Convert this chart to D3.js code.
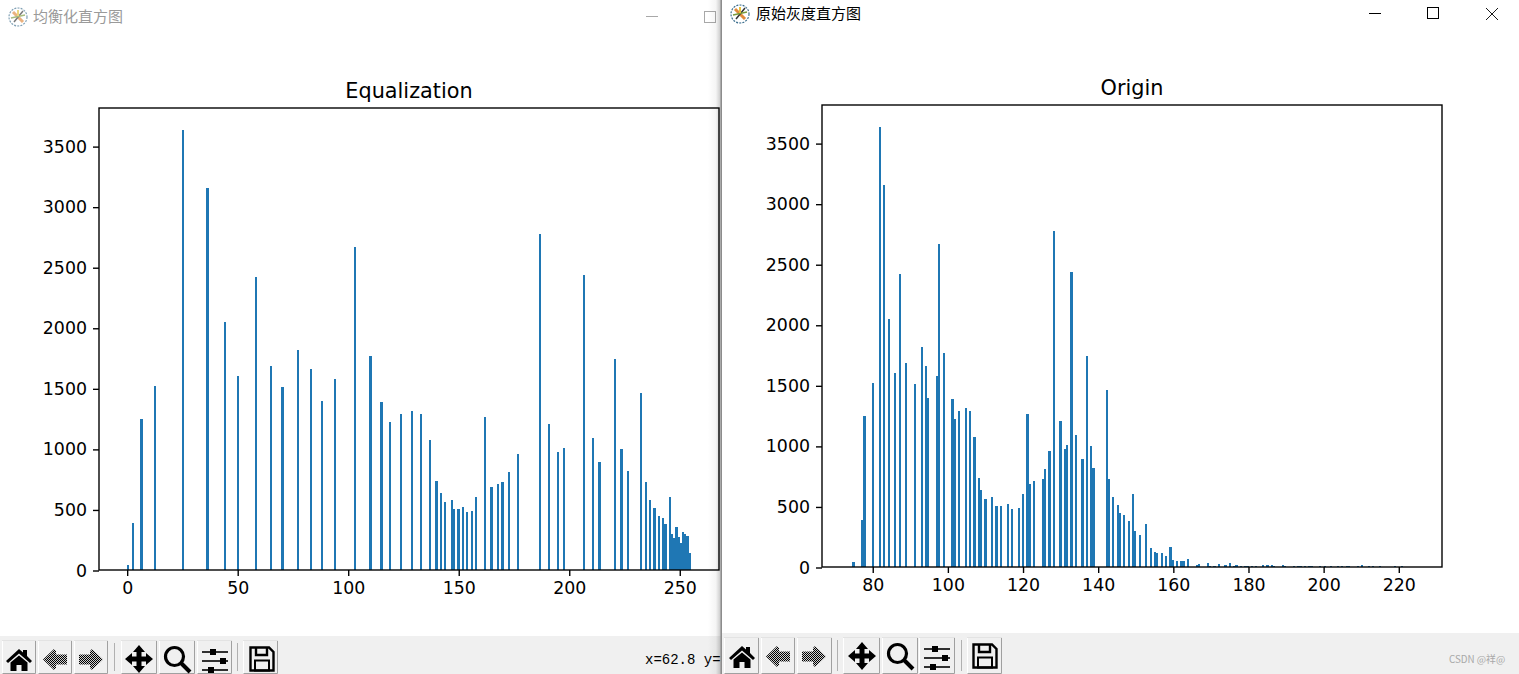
<!DOCTYPE html>
<html><head><meta charset="utf-8">
<script src="https://cdn.jsdelivr.net/npm/d3@7/dist/d3.min.js"></script>
<style>html,body{margin:0;padding:0;background:#fff;overflow:hidden}svg{display:block}</style>
</head><body>
<svg id="c" width="1519" height="674" xmlns="http://www.w3.org/2000/svg"></svg>
<script>
// ---- data ----
const originGrey = [74,75,77,78,80,82,83,84,86,87,89,91,93,94,95,97,98,99,101,102,103,105,106,107,108,109,110,112,113,114,116,117,119,120,121,122,123,125,126,127,128,130,131,132,133,134,136,137,138,139,142,143,144,145,146,147,148,149,150,151,153,154,155,156,157,158,159,160,161,162,163,164,166,167,169,170,171,172,174,175,176,177,178,179,180,181,182,184,185,186,187,189,190,192,193,194,195,196,197,199,200,202,204,205,206,207,209,210,212,213,215,219,221,224];
const originCount = [1,44,390,1248,1521,3633,3154,2049,1603,2420,1686,1512,1818,1661,1397,1578,2667,1768,1389,1224,1290,1315,1290,1075,737,638,564,580,506,506,522,481,490,602,1262,685,710,726,808,957,2772,1204,973,1006,2434,1089,891,1740,998,817,1460,726,577,511,445,429,380,602,297,264,355,157,124,115,115,91,165,58,50,50,50,66,16,25,33,8,8,25,16,33,8,16,8,8,8,8,8,16,16,16,8,16,8,8,8,8,8,8,8,8,8,8,8,8,8,8,8,16,8,8,8,8,8,1];
const equalGrey = [0,2,6,12,25,36,44,50,58,65,70,77,83,88,94,103,110,115,119,124,129,133,137,140,142,144,147,148,150,152,154,156,158,162,165,168,170,173,177,187,191,195,198,207,211,214,221,224,227,233,235,237,239,241,243,244,246,247,248,249,250,251,252,253,254,255];
const equalCount = [44,390,1248,1521,3633,3154,2049,1603,2420,1686,1512,1818,1661,1397,1578,2667,1768,1389,1224,1290,1315,1290,1075,737,638,564,580,506,506,522,481,490,602,1262,685,710,726,808,957,2772,1204,973,1006,2434,1089,891,1740,998,817,1460,726,577,511,445,429,380,602,297,264,355,272,223,313,297,280,140];
const yTicks = [0,500,1000,1500,2000,2500,3000,3500];
const equalXTicks = [0,50,100,150,200,250];
const originXTicks = [80,100,120,140,160,180,200,220];
const binCount = 256;

const svg = d3.select('#c');
const defs = svg.append('defs');
const pat = defs.append('pattern').attr('id','dither').attr('width',2).attr('height',2).attr('patternUnits','userSpaceOnUse');
pat.append('rect').attr('width',2).attr('height',2).attr('fill','#cfcfcf');
pat.append('rect').attr('width',1).attr('height',1).attr('fill','#000');
pat.append('rect').attr('x',1).attr('y',1).attr('width',1).attr('height',1).attr('fill','#000');
const grad = defs.append('linearGradient').attr('id','shadow');
grad.append('stop').attr('offset','0').attr('stop-color','#000').attr('stop-opacity',0);
grad.append('stop').attr('offset','0.6').attr('stop-color','#000').attr('stop-opacity',0.04);
grad.append('stop').attr('offset','1').attr('stop-color','#000').attr('stop-opacity',0.22);

function histogram(g, box, title, grey, count, xTicks) {
  const lo = d3.min(grey), hi = d3.max(grey), w = (hi - lo) / binCount, pad = (hi - lo) * 0.05;
  const x = d3.scaleLinear().domain([lo - pad, hi + pad]).range([box.l, box.r]);
  const y = d3.scaleLinear().domain([0, d3.max(count) * 1.05]).range([box.b, box.t]);
  const rows = grey.map((v, i) => {
    const idx = Math.min(binCount - 1, Math.floor((v - lo) / w));
    return {x0: lo + idx * w, x1: lo + (idx + 1) * w, n: count[i]};
  });
  // edges are snapped to whole pixels one by one, which gives the 2 and 3 pixel bars of the reference
  g.append('g').selectAll('rect').data(rows).join('rect')
    .attr('x', d => Math.round(x(d.x0))).attr('width', d => Math.round(x(d.x1)) - Math.round(x(d.x0)))
    .attr('y', d => Math.round(y(d.n))).attr('height', d => Math.round(y(0)) - Math.round(y(d.n)))
    .attr('fill', '#1f77b4').attr('shape-rendering', 'crispEdges');
  const style = s => {
    s.select('.domain').remove();
    s.selectAll('line').attr('stroke', '#000').attr('stroke-width', 1.39);
    s.selectAll('text').attr('font-family', '"DejaVu Sans"').attr('font-size', 17.36).attr('fill', '#000');
  };
  g.append('g').attr('transform', `translate(0,${box.b})`)
    .call(d3.axisBottom(x).tickValues(xTicks).tickSize(6).tickPadding(6).tickFormat(d3.format('d'))).call(style);
  g.append('g').attr('transform', `translate(${box.l},0.5)`)
    .call(d3.axisLeft(y).tickValues(yTicks).tickSize(6).tickPadding(6).tickFormat(d3.format('d'))).call(style);
  g.append('rect').attr('x', box.l).attr('y', box.t).attr('width', box.r - box.l).attr('height', box.b - box.t)
    .attr('fill', 'none').attr('stroke', '#000').attr('stroke-width', 1.39);
  g.append('text').attr('x', (box.l + box.r) / 2).attr('y', box.t - 10).attr('text-anchor', 'middle')
    .attr('font-family', '"DejaVu Sans"').attr('font-size', 20.8).attr('fill', '#000').text(title);
}

function appIcon(g, cx, cy, op) {
  const i = g.append('g').attr('transform', `translate(${cx},${cy})`).attr('opacity', op);
  i.append('circle').attr('r', 9).attr('fill', '#fff').attr('stroke', '#3d6f8e').attr('stroke-width', 1.2).attr('stroke-dasharray', '2 1.2');
  i.append('path').attr('d', 'M-5,-5L5,5').attr('stroke', '#e08a3c').attr('stroke-width', 3);
  i.append('path').attr('d', 'M5,-6L-4,5').attr('stroke', '#333').attr('stroke-width', 1.5);
  i.append('path').attr('d', 'M-7,1L7,-2').attr('stroke', '#7a9a3a').attr('stroke-width', 1.5);
  i.append('path').attr('d', 'M0,-7L0,-1').attr('stroke', '#e4c23c').attr('stroke-width', 2);
}

function button(g, x0, x1, top, bottom) {
  g.append('rect').attr('x', x0).attr('y', top).attr('width', x1 - x0).attr('height', bottom - top).attr('fill', '#f0f0f0');
  g.append('path').attr('d', `M${x0+.5},${bottom}V${top+.5}H${x1-.5}`).attr('fill', 'none').attr('stroke', '#fff');
  g.append('path').attr('d', `M${x0+.5},${bottom-.5}H${x1-.5}V${top}`).attr('fill', 'none').attr('stroke', '#a0a0a0');
  g.append('path').attr('d', `M${x0},${top+.5}H${x1}`).attr('stroke', '#e3e3e3');
}

const icons = {
  home: g => g.append('path').attr('d', 'M13,0L17,3.5V1H21V7L26,12L24,14L13,4.5L2,14L0,12ZM4.5,13.5L13,6.5L21.5,13.5V22H15.5V16H10.5V22H4.5Z').attr('fill', '#000'),
  back: g => g.append('path').attr('d', 'M11,0L13,2V5.5H24V15.5H13V19L11,21L0,10.5Z').attr('fill', 'url(#dither)'),
  forward: g => g.append('path').attr('d', 'M13,0L24,10.5L13,21L11,19V15.5H0V5.5H11V2Z').attr('fill', 'url(#dither)'),
  move: g => g.append('path').attr('d', 'M14,0L20,7H16.5V11.5H21V8L28,14L21,20V16.5H16.5V21H20L14,28L8,21H11.5V16.5H7V20L0,14L7,8V11.5H11.5V7H8Z').attr('fill', '#000'),
  zoom: g => { g.append('circle').attr('cx', 10.5).attr('cy', 10.5).attr('r', 9).attr('fill', 'none').attr('stroke', '#000').attr('stroke-width', 3.2);
    g.append('path').attr('d', 'M17,17L26,26').attr('stroke', '#000').attr('stroke-width', 4); },
  sliders: g => { [[3,8],[12,18],[21,6]].forEach(([yy, xx]) => {
      g.append('path').attr('d', `M0,${yy}H26`).attr('stroke', '#000').attr('stroke-width', 1.6);
      g.append('rect').attr('x', xx).attr('y', yy - 3).attr('width', 6).attr('height', 6).attr('fill', '#000'); }); },
  save: g => { g.append('path').attr('d', 'M1.5,1.5H20L24.5,6V24.5H1.5Z').attr('fill', 'none').attr('stroke', '#000').attr('stroke-width', 2.4);
    g.append('path').attr('d', 'M7,1.5V9H18V1.5').attr('fill', 'none').attr('stroke', '#000').attr('stroke-width', 2.4);
    g.append('rect').attr('x', 6).attr('y', 14.5).attr('width', 14).attr('height', 10).attr('fill', 'none').attr('stroke', '#000').attr('stroke-width', 2); }
};

function toolbar(g, top, btnTop, layout, seps) {
  g.append('rect').attr('x', layout.x).attr('y', top).attr('width', layout.w).attr('height', 674 - top).attr('fill', '#f0f0f0');
  layout.buttons.forEach(b => {
    button(g, b.x0, b.x1, btnTop, 674);
    icons[b.icon](g.append('g').attr('transform', `translate(${b.ix},${b.iy})`));
  });
  seps.forEach(s => g.append('path').attr('d', `M${s}.5,${btnTop+3}V671`).attr('stroke', '#b0b0b0'));
}

// ---- left window ----
const left = svg.append('g');
left.append('rect').attr('width', 722).attr('height', 674).attr('fill', '#fff');
appIcon(left, 18, 17, 0.65);
left.append('text').attr('x', 33).attr('y', 22).attr('font-family', '"Noto Sans CJK SC"').attr('font-size', 15).attr('fill', '#9a9a9a').text('均衡化直方图');
left.append('path').attr('d', 'M646,16.5H658').attr('stroke', '#a8a8a8');
left.append('rect').attr('x', 704.5).attr('y', 11.5).attr('width', 11).attr('height', 11).attr('fill', 'none').attr('stroke', '#a8a8a8');
histogram(left, {l: 99, r: 719, t: 108, b: 570}, 'Equalization', equalGrey, equalCount, equalXTicks);
toolbar(left, 636, 640, {x: 0, w: 722, buttons: [
  {x0: 2, x1: 36, icon: 'home', ix: 6, iy: 649},
  {x0: 38, x1: 72, icon: 'back', ix: 43, iy: 649},
  {x0: 74, x1: 108, icon: 'forward', ix: 79, iy: 649},
  {x0: 121, x1: 157, icon: 'move', ix: 125, iy: 645},
  {x0: 159, x1: 195, icon: 'zoom', ix: 164, iy: 646},
  {x0: 197, x1: 232, icon: 'sliders', ix: 202, iy: 649},
  {x0: 243, x1: 278, icon: 'save', ix: 249, iy: 646}
]}, [114, 237]);
left.append('text').attr('x', 645).attr('y', 664).attr('font-family', '"Liberation Mono"').attr('font-size', 14).attr('fill', '#000').text('x=62.8 y=');
left.append('rect').attr('x', 708).attr('y', 0).attr('width', 13).attr('height', 674).attr('fill', 'url(#shadow)');
left.append('rect').attr('x', 720.5).attr('y', 0).attr('width', 1.5).attr('height', 674).attr('fill', '#8c8c8c');

// ---- right window ----
const right = svg.append('g');
right.append('rect').attr('x', 722).attr('width', 797).attr('height', 674).attr('fill', '#fff');
appIcon(right, 740, 14, 1);
right.append('text').attr('x', 756).attr('y', 19).attr('font-family', '"Noto Sans CJK SC"').attr('font-size', 15).attr('fill', '#000').text('原始灰度直方图');
right.append('path').attr('d', 'M1369,13.5H1381').attr('stroke', '#000');
right.append('rect').attr('x', 1427.5).attr('y', 7.5).attr('width', 11).attr('height', 11).attr('fill', 'none').attr('stroke', '#000');
right.append('path').attr('d', 'M1486,8L1498,20M1498,8L1486,20').attr('stroke', '#000').attr('stroke-width', 0.9);
histogram(right, {l: 822, r: 1442, t: 105, b: 567}, 'Origin', originGrey, originCount, originXTicks);
toolbar(right, 633, 637, {x: 722, w: 797, buttons: [
  {x0: 724, x1: 759, icon: 'home', ix: 729, iy: 646},
  {x0: 761, x1: 795, icon: 'back', ix: 766, iy: 646},
  {x0: 797, x1: 832, icon: 'forward', ix: 802, iy: 646},
  {x0: 843, x1: 880, icon: 'move', ix: 848, iy: 642},
  {x0: 882, x1: 918, icon: 'zoom', ix: 887, iy: 643},
  {x0: 919, x1: 955, icon: 'sliders', ix: 924, iy: 646},
  {x0: 967, x1: 1002, icon: 'save', ix: 972, iy: 643}
]}, [837, 961]);
right.append('text').attr('x', 1449).attr('y', 663).attr('font-family', '"Noto Sans CJK SC"').attr('font-size', 9.8).attr('fill', '#a8a8a8').text('CSDN @祥@');
</script>
</body></html>
